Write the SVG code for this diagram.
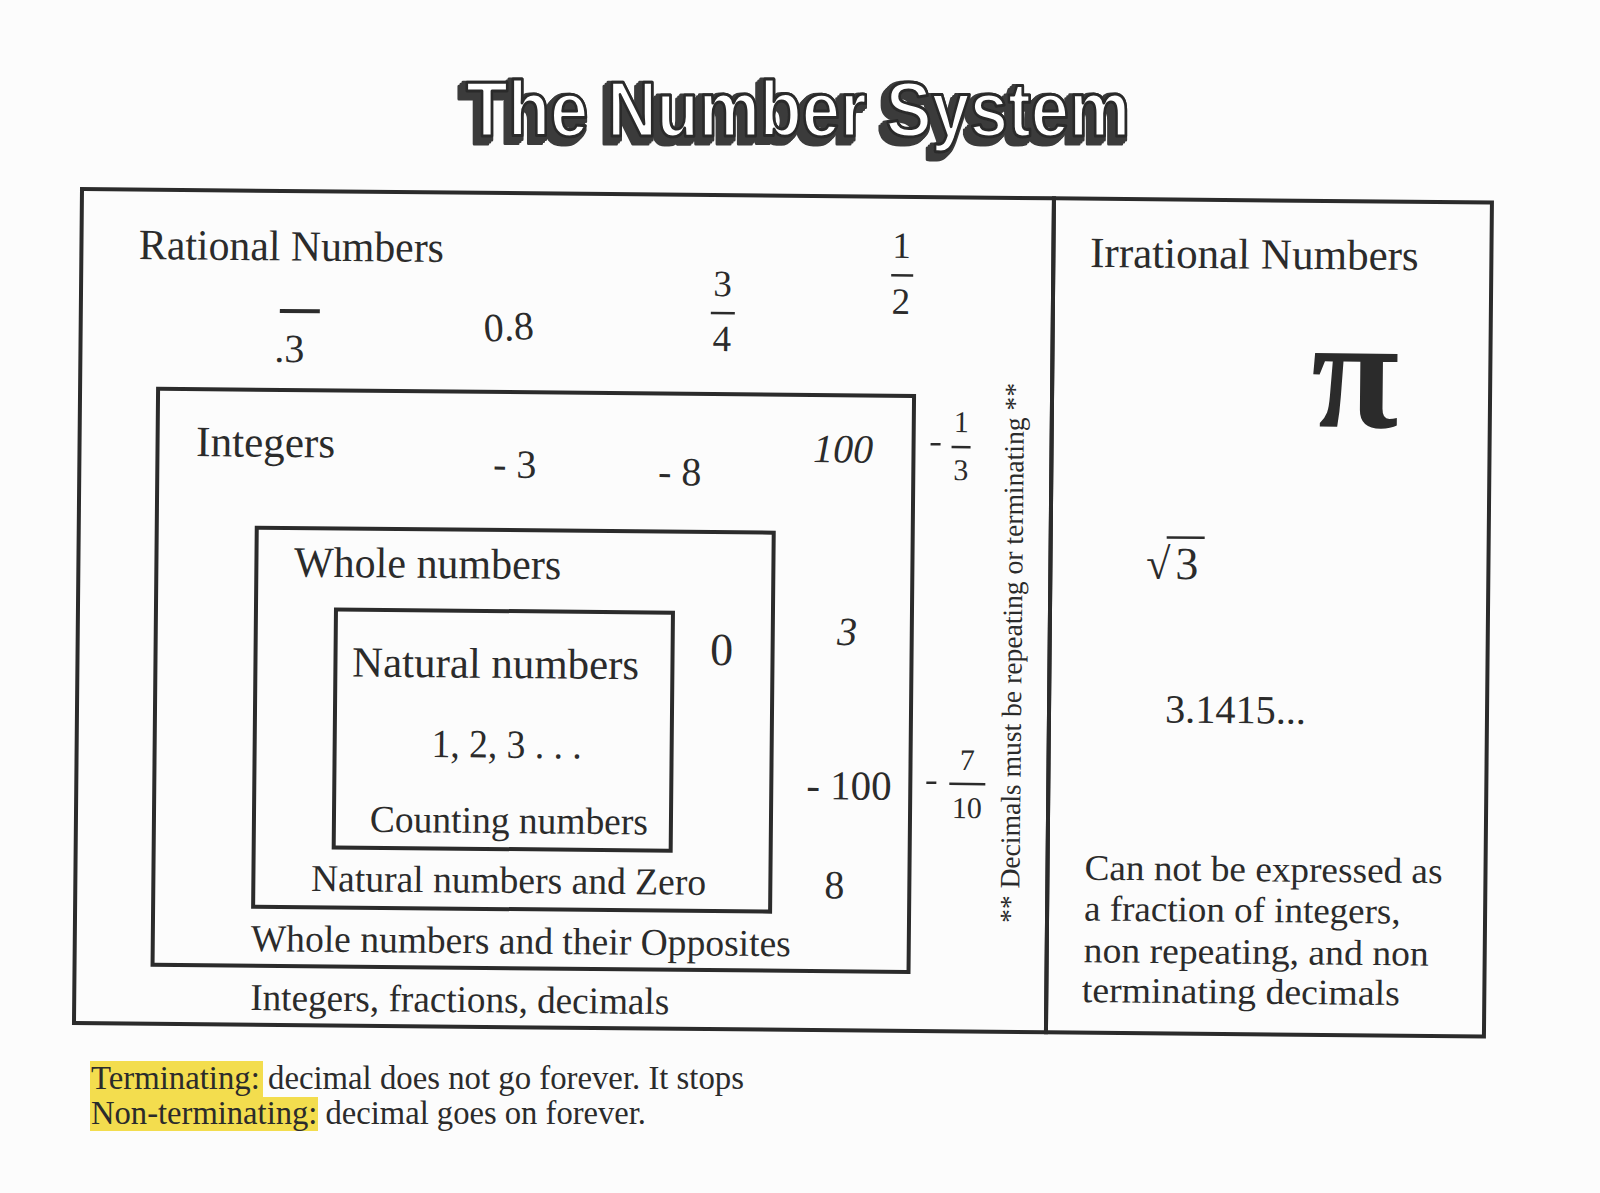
<svg xmlns="http://www.w3.org/2000/svg" width="1600" height="1193" viewBox="0 0 1600 1193">
<style>
.t{font-family:"Liberation Serif","Times New Roman",serif;fill:#2b2b2b}
.box{fill:none;stroke:#2b2b2b;stroke-width:4}
.bar{stroke:#2b2b2b;stroke-width:2.5}
.lbl{font-size:43px}
.sub{font-size:38px}
.desc{font-size:36px}
.num{font-size:40px}
.fr{font-size:37px;text-anchor:middle}
.frs{font-size:30px;text-anchor:middle}
.it{font-style:italic}
.ttl{font-family:"Liberation Sans",Arial,sans-serif;font-weight:bold;font-size:78px;stroke-linejoin:round}
</style>
<defs>
<filter id="ext" x="-5%" y="-30%" width="110%" height="160%">
<feMorphology in="SourceAlpha" operator="dilate" radius="1.5" result="d"/>
<feOffset in="d" dx="-2" dy="2" result="o1"/>
<feOffset in="d" dx="-4" dy="4" result="o2"/>
<feOffset in="d" dx="-6" dy="6" result="o3"/>
<feMerge result="m"><feMergeNode in="o1"/><feMergeNode in="o2"/><feMergeNode in="o3"/></feMerge>
<feFlood flood-color="#3a3a3a"/>
<feComposite in2="m" operator="in" result="s"/>
<feMerge><feMergeNode in="s"/><feMergeNode in="SourceGraphic"/></feMerge>
</filter>
</defs>
<rect width="1600" height="1193" fill="#fcfcfc"/>
<g id="title">
<text class="ttl" x="466" y="136" textLength="664" lengthAdjust="spacingAndGlyphs" fill="#ffffff" stroke="#2b2b2b" stroke-width="3" filter="url(#ext)">The Number System</text>
</g>
<g id="connectors"/>
<g transform="rotate(0.55 82 189)">
<g id="rational">
<rect class="box" x="82" y="189" width="972" height="834"/>
<text class="t lbl" x="139.5" y="258.5" textLength="305" lengthAdjust="spacingAndGlyphs">Rational Numbers</text>
<text class="t num" x="276" y="360">.3</text>
<line x1="281" y1="309" x2="321" y2="309" stroke="#2b2b2b" stroke-width="4"/>
<text class="t num" x="486" y="338" transform="rotate(-4 486 338)">0.8</text>
<text class="t fr" x="723.4" y="290">3</text>
<line class="bar" x1="712" y1="307" x2="736" y2="307"/>
<text class="t fr" x="723.4" y="345">4</text>
<text class="t fr" x="902" y="250">1</text>
<line class="bar" x1="892" y1="267.6" x2="914" y2="267.6"/>
<text class="t fr" x="902" y="306">2</text>
<line class="bar" x1="933" y1="436" x2="943" y2="436"/>
<text class="t frs" x="963.5" y="423.6">1</text>
<line class="bar" x1="954" y1="438.6" x2="973" y2="438.6"/>
<text class="t frs" x="963.5" y="471.6">3</text>
<line class="bar" x1="932" y1="774.5" x2="942" y2="774.5"/>
<text class="t frs" x="972.7" y="761.5">7</text>
<line class="bar" x1="955" y1="775.5" x2="991" y2="775.5"/>
<text class="t frs" x="972.7" y="809.5">10</text>
<text class="t" font-size="28" transform="translate(1026 914) rotate(-90)" textLength="540" lengthAdjust="spacingAndGlyphs">** Decimals must be repeating or terminating **</text>
<text class="t sub" x="258" y="1008.4" textLength="419" lengthAdjust="spacingAndGlyphs">Integers, fractions, decimals</text>
</g>
<g id="integers">
<rect class="box" x="160" y="388" width="756" height="576"/>
<text class="t lbl" x="198.6" y="455" textLength="139" lengthAdjust="spacingAndGlyphs">Integers</text>
<text class="t num" x="495.8" y="473.6">- 3</text>
<text class="t num" x="660.8" y="479.5">- 8</text>
<text class="t num it" x="815.6" y="455">100</text>
<text class="t num it" x="841.4" y="637.8">3</text>
<text class="t" font-size="41" x="812" y="792">- 100</text>
<text class="t num" x="831" y="891">8</text>
<text class="t sub" x="258" y="949.4" textLength="540" lengthAdjust="spacingAndGlyphs">Whole numbers and their Opposites</text>
</g>
<g id="whole">
<rect class="box" x="260" y="526" width="517" height="379"/>
<text class="t lbl" x="297.7" y="574.5" textLength="267" lengthAdjust="spacingAndGlyphs">Whole numbers</text>
<text class="t" font-size="46" x="714.6" y="659">0</text>
<text class="t sub" x="317.7" y="888.8" textLength="395" lengthAdjust="spacingAndGlyphs">Natural numbers and Zero</text>
</g>
<g id="natural">
<rect class="box" x="340" y="607" width="337" height="238"/>
<text class="t lbl" x="356.7" y="673.9" textLength="287" lengthAdjust="spacingAndGlyphs">Natural numbers</text>
<text class="t num" x="437" y="753.6" textLength="150" lengthAdjust="spacingAndGlyphs">1, 2, 3 . . .</text>
<text class="t sub" x="376" y="829" textLength="278" lengthAdjust="spacingAndGlyphs">Counting numbers</text>
</g>
<g id="irrational">
<rect class="box" x="1054" y="189" width="438" height="834"/>
<text class="t lbl" x="1090.7" y="257.3" textLength="328.6" lengthAdjust="spacingAndGlyphs">Irrational Numbers</text>
<text class="t" font-size="160" font-weight="bold" x="1313" y="414.7">π</text>
<text class="t" font-size="44" x="1149.7" y="568.4">√</text>
<line x1="1170" y1="527" x2="1208" y2="527" stroke="#2b2b2b" stroke-width="2.5"/>
<text class="t" font-size="46" x="1179" y="568.4">3</text>
<text class="t num" x="1170" y="712" textLength="141" lengthAdjust="spacingAndGlyphs">3.1415...</text>
<text class="t desc" x="1091" y="870" textLength="358" lengthAdjust="spacingAndGlyphs">Can not be expressed as</text>
<text class="t desc" x="1091" y="910.8" textLength="316.5" lengthAdjust="spacingAndGlyphs">a fraction of integers,</text>
<text class="t desc" x="1091" y="952.6" textLength="345" lengthAdjust="spacingAndGlyphs">non repeating, and non</text>
<text class="t desc" x="1089.5" y="992.4" textLength="318" lengthAdjust="spacingAndGlyphs">terminating decimals</text>
</g>
</g>
<g id="notes">
<rect x="90" y="1061" width="173" height="36" fill="#f3dd4e"/>
<rect x="90" y="1097" width="228" height="34" fill="#f3dd4e"/>
<text class="t" font-size="33" x="91" y="1089" textLength="653" lengthAdjust="spacingAndGlyphs">Terminating: decimal does not go forever. It stops</text>
<text class="t" font-size="33" x="91" y="1124" textLength="555" lengthAdjust="spacingAndGlyphs">Non-terminating: decimal goes on forever.</text>
</g>
</svg>
